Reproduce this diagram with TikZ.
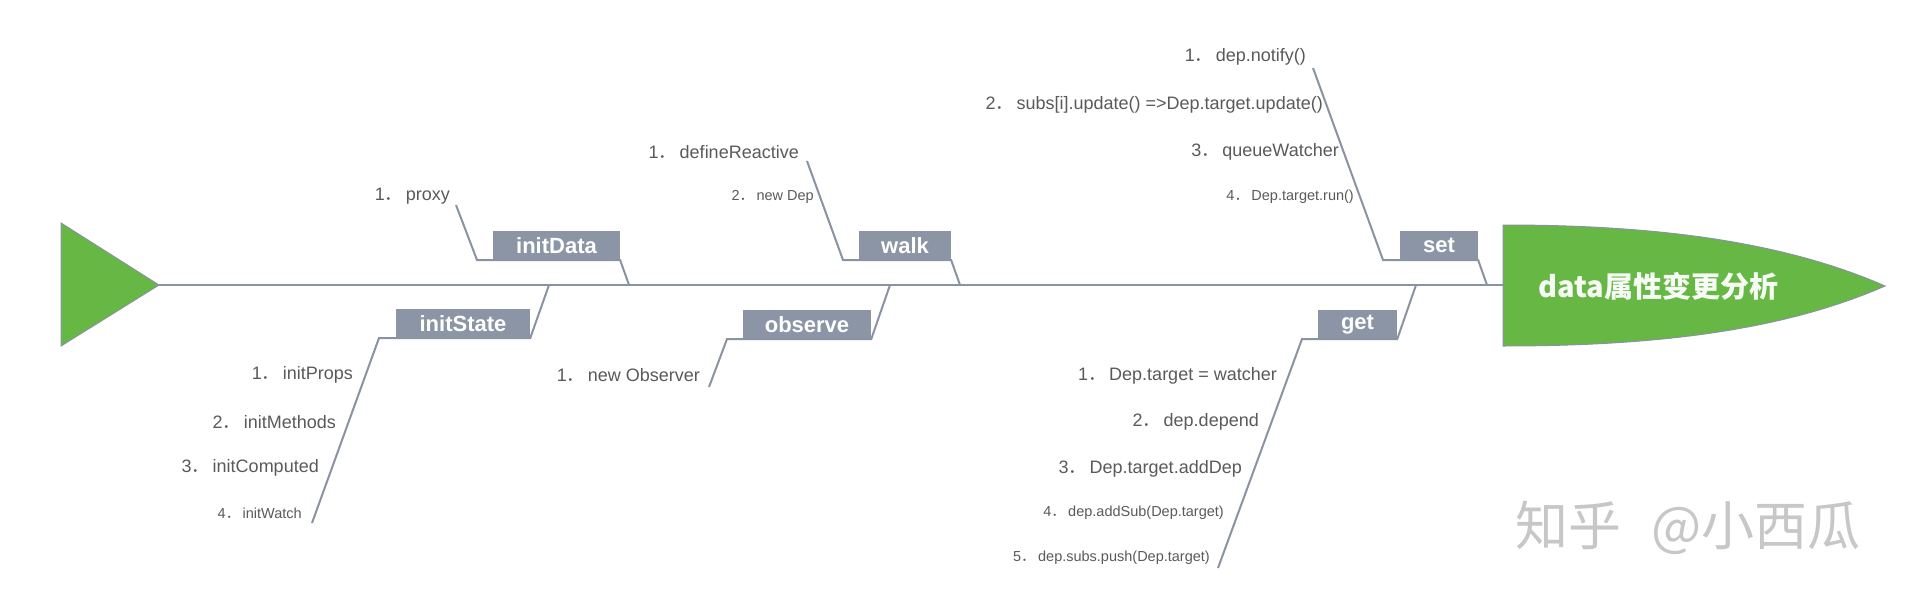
\documentclass[tikz,border=0pt]{standalone}
\usepackage{fontspec}
\setmainfont{Liberation Sans}
\newfontfamily\cjk{Noto Sans CJK SC}
\usepackage{tikz}
\definecolor{fishgreen}{HTML}{66B744}
\definecolor{bonegray}{HTML}{8A93A1}
\definecolor{causegray}{HTML}{8B95A6}
\definecolor{itemgray}{HTML}{5A5A5A}
\newcommand{\itemno}[1]{#1{\cjk ．}\,}

\begin{document}
\begin{tikzpicture}[x=1pt, y=-1pt,
  spine/.style={draw=bonegray, line width=2.8pt},
  bone/.style={draw=bonegray, line width=2pt},
  cause/.style={fill=causegray, text=white, inner sep=0pt, minimum height=29pt,
    font=\fontsize{22}{24}\selectfont\bfseries},
  item/.style={anchor=east, inner sep=0pt, text=itemgray,
    font=\fontsize{18}{20}\selectfont},
  smallitem/.style={item, font=\fontsize{14.5}{16}\selectfont}]
    \useasboundingbox[fill=white] (0,0) rectangle (1920,607);
    % tail and head of the fish
    \coordinate (tailtip) at (159,285);
    \coordinate (headback) at (1503,285);
    \filldraw[fill=fishgreen, draw=bonegray, line width=1pt]
        (61,223) -- (tailtip) -- (61,346) -- cycle;
    \filldraw[fill=fishgreen, draw=bonegray, line width=1pt]
        (1503,225) .. controls (1650,225) and (1780,240) .. (1885,286)
        .. controls (1780,332) and (1650,346) .. (1503,346) -- cycle;
    \node[anchor=west, text=white!95!fishgreen, font=\cjk\fontsize{29}{32}\selectfont\bfseries]
        (effect) at (1535,286) {data属性变更分析};
    \draw[spine] (tailtip) -- (headback);

    % causes
    \node[cause, minimum width=127pt] (initData) at (556.5,245.5) {initData};
    \node[cause, minimum width=92pt] (walk) at (905,245.5) {walk};
    \node[cause, minimum width=78pt] (set) at (1439,245.5) {set};
    \node[cause, minimum width=134pt] (initState) at (463,323.5) {initState};
    \node[cause, minimum width=128pt] (observe) at (807,324.5) {observe};
    \node[cause, minimum width=79pt] (get) at (1357.5,324.5) {get};

    % upper bones
    \coordinate (dataTop) at (456,205);
    \coordinate (dataBend) at (477,260);
    \coordinate (dataFoot) at (629,285);
    \draw[bone] (dataTop) -- (dataBend) -- (initData.south east) -- (dataFoot);
    \coordinate (walkTop) at (807,161);
    \coordinate (walkBend) at (843,260);
    \coordinate (walkFoot) at (960,285);
    \draw[bone] (walkTop) -- (walkBend) -- (walk.south east) -- (walkFoot);
    \coordinate (setTop) at (1313,68);
    \coordinate (setBend) at (1383,260);
    \coordinate (setFoot) at (1487,285);
    \draw[bone] (setTop) -- (setBend) -- (set.south east) -- (setFoot);

    % lower bones
    \coordinate (stateFoot) at (549,285);
    \coordinate (stateBend) at (379,338);
    \coordinate (stateEnd) at (312,523);
    \draw[bone] (stateFoot) -- (initState.south east) -- (stateBend) -- (stateEnd);
    \coordinate (observeFoot) at (890,285);
    \coordinate (observeBend) at (727,339);
    \coordinate (observeEnd) at (709,387);
    \draw[bone] (observeFoot) -- (observe.south east) -- (observeBend) -- (observeEnd);
    \coordinate (getFoot) at (1416,285);
    \coordinate (getBend) at (1302,339);
    \coordinate (getEnd) at (1218,568);
    \draw[bone] (getFoot) -- (get.south east) -- (getBend) -- (getEnd);

    % items
    \node[item] (proxy) at (450,196) {\itemno{1}proxy};
    \node[item] (defineReactive) at (799,152) {\itemno{1}defineReactive};
    \node[smallitem] (newDep) at (814,197) {\itemno{2}new Dep};
    \node[item] (notify) at (1306,57) {\itemno{1}dep.notify()};
    \node[item] (update) at (1323,105) {\itemno{2}subs[i].update() =>Dep.target.update()};
    \node[item] (queueWatcher) at (1339,152) {\itemno{3}queueWatcher};
    \node[smallitem] (run) at (1354,197) {\itemno{4}Dep.target.run()};
    \node[item] (initProps) at (353,375) {\itemno{1}initProps};
    \node[item] (initMethods) at (336,422) {\itemno{2}initMethods};
    \node[item] (initComputed) at (319,468) {\itemno{3}initComputed};
    \node[smallitem] (initWatch) at (302,513) {\itemno{4}initWatch};
    \node[item] (newObserver) at (700,375) {\itemno{1}new Observer};
    \node[item] (target) at (1277,376) {\itemno{1}Dep.target = watcher};
    \node[item] (depend) at (1259,422) {\itemno{2}dep.depend};
    \node[item] (addDep) at (1242,469) {\itemno{3}Dep.target.addDep};
    \node[smallitem] (addSub) at (1224,513) {\itemno{4}dep.addSub(Dep.target)};
    \node[smallitem] (push) at (1210,558) {\itemno{5}dep.subs.push(Dep.target)};

    % watermark
    \node[anchor=west, inner sep=0pt, text=black!22, font=\cjk\fontsize{53}{56}\selectfont]
        (mark) at (1515,528) {知乎\hspace{30pt}@小西瓜};
\end{tikzpicture}
\end{document}
